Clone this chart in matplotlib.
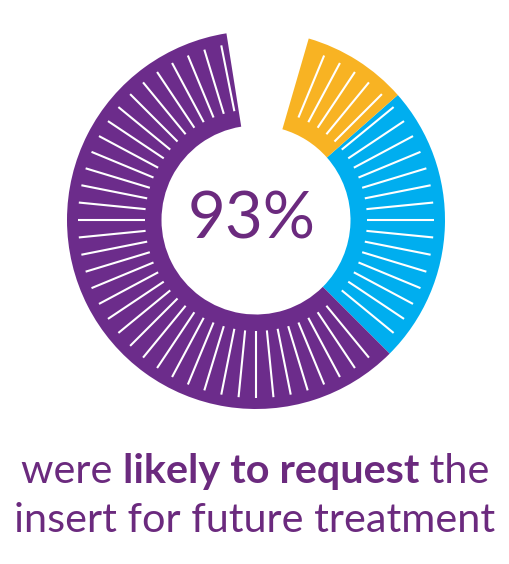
import numpy as np
import matplotlib
matplotlib.use("Agg")
from matplotlib import pyplot as plt

W, H = 509, 564

# donut segments, counter-clockwise from the lower right (percent of the full ring)
segment_names = ["blue", "yellow", "gap", "purple"]
segment_values = [24, 9, 7, 60]
segment_colors = ["#00AEEF", "#F8B323", "none", "#6C2C8B"]

headline = "93%"
caption_line1 = [("were ", "normal"), ("likely to request", "bold"), (" the", "normal")]
caption_line2 = "insert for future treatment"

TEXT_COLOR = "#6B2A7E"
N_TICKS = 64
FONT = "Lato"

fig = plt.figure(figsize=(W / 100, H / 100), dpi=100)

cx, cy, r_out = 256, 220, 189
ax = fig.add_axes([(cx - r_out) / W, 1 - (cy + r_out) / H, 2 * r_out / W, 2 * r_out / H])
wedges, _ = ax.pie(segment_values, colors=segment_colors, startangle=-45,
                   counterclock=True, radius=1,
                   wedgeprops=dict(width=0.5, linewidth=0))

# white radial strokes inside each coloured segment
step = 360 / N_TICKS
r0, r1 = 0.587, 0.942
margin = 1.5
for w, col in zip(wedges, segment_colors):
    if col == "none":
        continue
    for k in range(N_TICKS):
        for a in (k * step - 360, k * step, k * step + 360):
            if w.theta1 + margin <= a <= w.theta2 - margin:
                t = np.deg2rad(a)
                ax.plot([r0 * np.cos(t), r1 * np.cos(t)], [r0 * np.sin(t), r1 * np.sin(t)],
                        color="white", lw=1.5, solid_capstyle="butt")

ax.text(-0.025, 0.0, headline, ha="center", va="center", fontsize=47,
        fontfamily=FONT, fontweight="normal", color=TEXT_COLOR)
ax.set_xlim(-1, 1)
ax.set_ylim(-1, 1)
ax.axis("off")

# caption, first line mixes weights
fs = 29.8
renderer = fig.canvas.get_renderer()
parts = []
for s, wt in caption_line1:
    t = fig.text(0, 1 - 483 / H, s, fontsize=fs, fontfamily=FONT, fontweight=wt,
                 color=TEXT_COLOR, va="baseline", ha="left")
    parts.append(t)
widths = [p.get_window_extent(renderer).width for p in parts]
x = 255 - sum(widths) / 2
for p, wd in zip(parts, widths):
    p.set_x(x / W)
    x += wd

fig.text(255 / W, 1 - 532 / H, caption_line2, fontsize=fs, fontfamily=FONT,
         color=TEXT_COLOR, va="baseline", ha="center")

fig.savefig("out.png", dpi=100)
